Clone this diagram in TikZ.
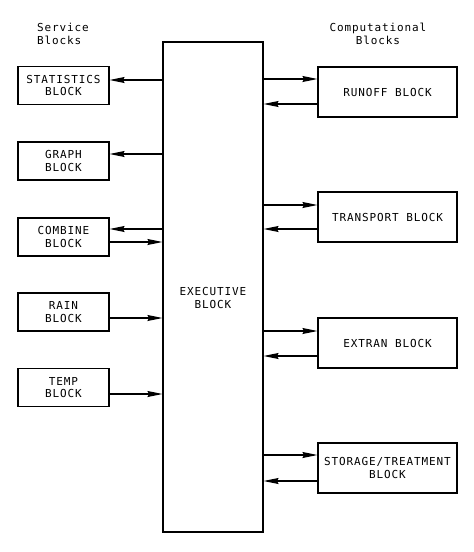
\documentclass[tikz,border=0pt]{standalone}
\usepackage{fontspec}
\setmainfont{DejaVu Sans Mono}[LetterSpace=8]
\usetikzlibrary{arrows.meta}
\begin{document}
\begin{tikzpicture}[x=1pt,y=-1pt,
  blk/.style={draw, line width=1.1pt, inner sep=0pt, align=center,
    font=\fontsize{11}{12.5}\selectfont},
  lbox/.style={blk, minimum width=91pt, minimum height=38pt},
  rbox/.style={blk, minimum width=139pt, minimum height=50pt},
  ttl/.style={font=\fontsize{11}{13}\selectfont, inner sep=0pt},
  arr/.style={line width=1.1pt, -{Stealth[length=15pt,width=6pt,inset=1.5pt]}}]
\useasboundingbox (0,0) rectangle (474,552);
\fill[white] (0,0) rectangle (474,552);
% titles
\node[ttl, align=left, anchor=north west] (svc) at (37,23) {Service\\Blocks};
\node[ttl, align=center, anchor=north] (cmp) at (378,23) {Computational\\Blocks};
% executive
\node[draw, line width=1.1pt, minimum width=100pt, minimum height=490pt, inner sep=0pt] (exec) at (213,287) {};
\node[blk, draw=none] (exectxt) at (213,298) {EXECUTIVE\\BLOCK};
% left boxes
\node[lbox] (stat) at (63.5,85.5) {STATISTICS\\BLOCK};
\node[lbox] (graph) at (63.5,161) {GRAPH\\BLOCK};
\node[lbox] (comb) at (63.5,237) {COMBINE\\BLOCK};
\node[lbox] (rain) at (63.5,312) {RAIN\\BLOCK};
\node[lbox] (temp) at (63.5,387.5) {TEMP\\BLOCK};
% right boxes
\node[rbox] (run) at (387.5,92) {RUNOFF BLOCK};
\node[rbox] (trans) at (387.5,217) {TRANSPORT BLOCK};
\node[rbox] (ext) at (387.5,343) {EXTRAN BLOCK};
\node[rbox] (stor) at (387.5,468) {STORAGE/TREATMENT\\BLOCK};
% left arrows
\draw[arr] (exec.west |- 0,80) -- (stat.east |- 0,80);
\draw[arr] (exec.west |- 0,154) -- (graph.east |- 0,154);
\draw[arr] (exec.west |- 0,229) -- (comb.east |- 0,229);
\draw[arr] (comb.east |- 0,242) -- (exec.west |- 0,242);
\draw[arr] (rain.east |- 0,318) -- (exec.west |- 0,318);
\draw[arr] (temp.east |- 0,394) -- (exec.west |- 0,394);
% right arrows
\draw[arr] (exec.east |- 0,79) -- (run.west |- 0,79);
\draw[arr] (run.west |- 0,104) -- (exec.east |- 0,104);
\draw[arr] (exec.east |- 0,205) -- (trans.west |- 0,205);
\draw[arr] (trans.west |- 0,229) -- (exec.east |- 0,229);
\draw[arr] (exec.east |- 0,331) -- (ext.west |- 0,331);
\draw[arr] (ext.west |- 0,356) -- (exec.east |- 0,356);
\draw[arr] (exec.east |- 0,455) -- (stor.west |- 0,455);
\draw[arr] (stor.west |- 0,481) -- (exec.east |- 0,481);
\end{tikzpicture}
\end{document}
